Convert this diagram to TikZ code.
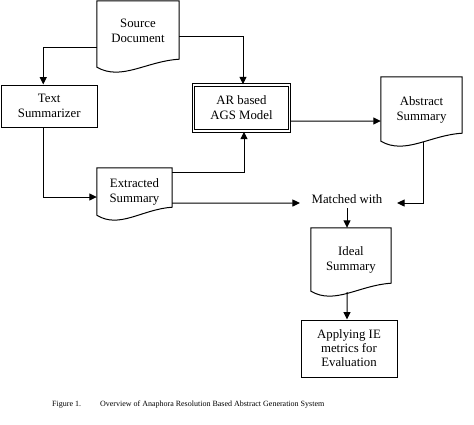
\documentclass[tikz,border=0pt]{standalone}
\usepackage{fontspec}
\setmainfont{Liberation Serif}
\usetikzlibrary{arrows.meta,calc}
\tikzset{
  plain/.style={line width=1bp},
  arr/.style={line width=1bp,-{Triangle[length=7.5bp,width=7bp]}},
  lbl/.style={font=\fontsize{12.8bp}{15bp}\selectfont, align=center, inner sep=0pt},
  boxnode/.style={lbl, draw, line width=1bp},
  arbox/.style={lbl, draw, double, line width=1bp, double distance=1.5bp},
  docnode/.style={lbl},
  captext/.style={font=\fontsize{8bp}{9.6bp}\selectfont, inner sep=0pt, anchor=base west}
}
\newcommand\docshape[2]{%
  \draw[plain] let \p1=(#1.north west), \p2=(#1.south east) in
    (\x1,\y1) -- (\x2,\y1) -- (\x2,{\y2+#2})
    .. controls ({\x1+0.6*(\x2-\x1)},{\y2+#2-2bp}) and ({\x1+0.3*(\x2-\x1)},{\y2+#2-22bp}) ..
    (\x1,{\y2+#2-8bp}) -- cycle;}
\begin{document}
\begin{tikzpicture}[x=1bp,y=-1bp]
\useasboundingbox (0,0) rectangle (474,424);
% nodes
\node[docnode, minimum width=82bp, minimum height=59bp] (src) at (138,30.5) {Source\\Document};
\node[boxnode, minimum width=95.5bp, minimum height=42bp] (ts) at (49.25,106) {Text\\Summarizer};
\node[arbox, minimum width=96.4bp, minimum height=46.4bp] (ar) at (241.5,108) {AR based\\AGS Model};
\node[docnode, minimum width=81bp, minimum height=65bp] (abs) at (421.5,109.5) {Abstract\\Summary};
\node[docnode, minimum width=75bp, minimum height=48bp] (ext) at (134.5,192) {Extracted\\Summary};
\node[lbl] (mat) at (347,199) {Matched with};
\node[docnode, minimum width=80bp, minimum height=64bp] (ideal) at (351,260) {Ideal\\Summary};
\node[boxnode, font=\fontsize{12.8bp}{14bp}\selectfont, minimum width=96bp, minimum height=57bp] (app) at (349,348.5) {Applying IE\\metrics for\\Evaluation};
\node[captext] (cap) at (52,406) {Figure 1.\hspace{19bp}Overview of Anaphora Resolution Based Abstract Generation System};
% document outlines
\docshape{src}{1bp}
\docshape{abs}{9bp}
\docshape{ext}{9bp}
\docshape{ideal}{9bp}
% connectors
\draw[arr] ([yshift=-16.5bp]src.west) -| ([xshift=-6bp]ts.north);
\draw[arr] ([yshift=-5.5bp]src.east) -| ([xshift=1.5bp]ar.north);
\draw[arr] ([xshift=-6bp]ts.south) |- ([yshift=-5bp]ext.west);
\draw[arr] ([yshift=20bp]ext.east) -| ([xshift=2.5bp]ar.south);
\draw[arr] ([yshift=-11bp]ext.east) -- ([xshift=-11.5bp,yshift=-4bp]mat.west);
\draw[arr] ([yshift=-13bp]ar.east) -- ([yshift=-11.5bp]abs.west);
\draw[arr] ([xshift=1.5bp]abs.south) |- ([xshift=14.5bp,yshift=-4bp]mat.east);
\draw[arr] ([yshift=-4.5bp]mat.south) -- (mat.south |- ideal.north);
\draw[arr] ([xshift=-4bp]ideal.south) -- ([xshift=-2bp]app.north);
\end{tikzpicture}
\end{document}
